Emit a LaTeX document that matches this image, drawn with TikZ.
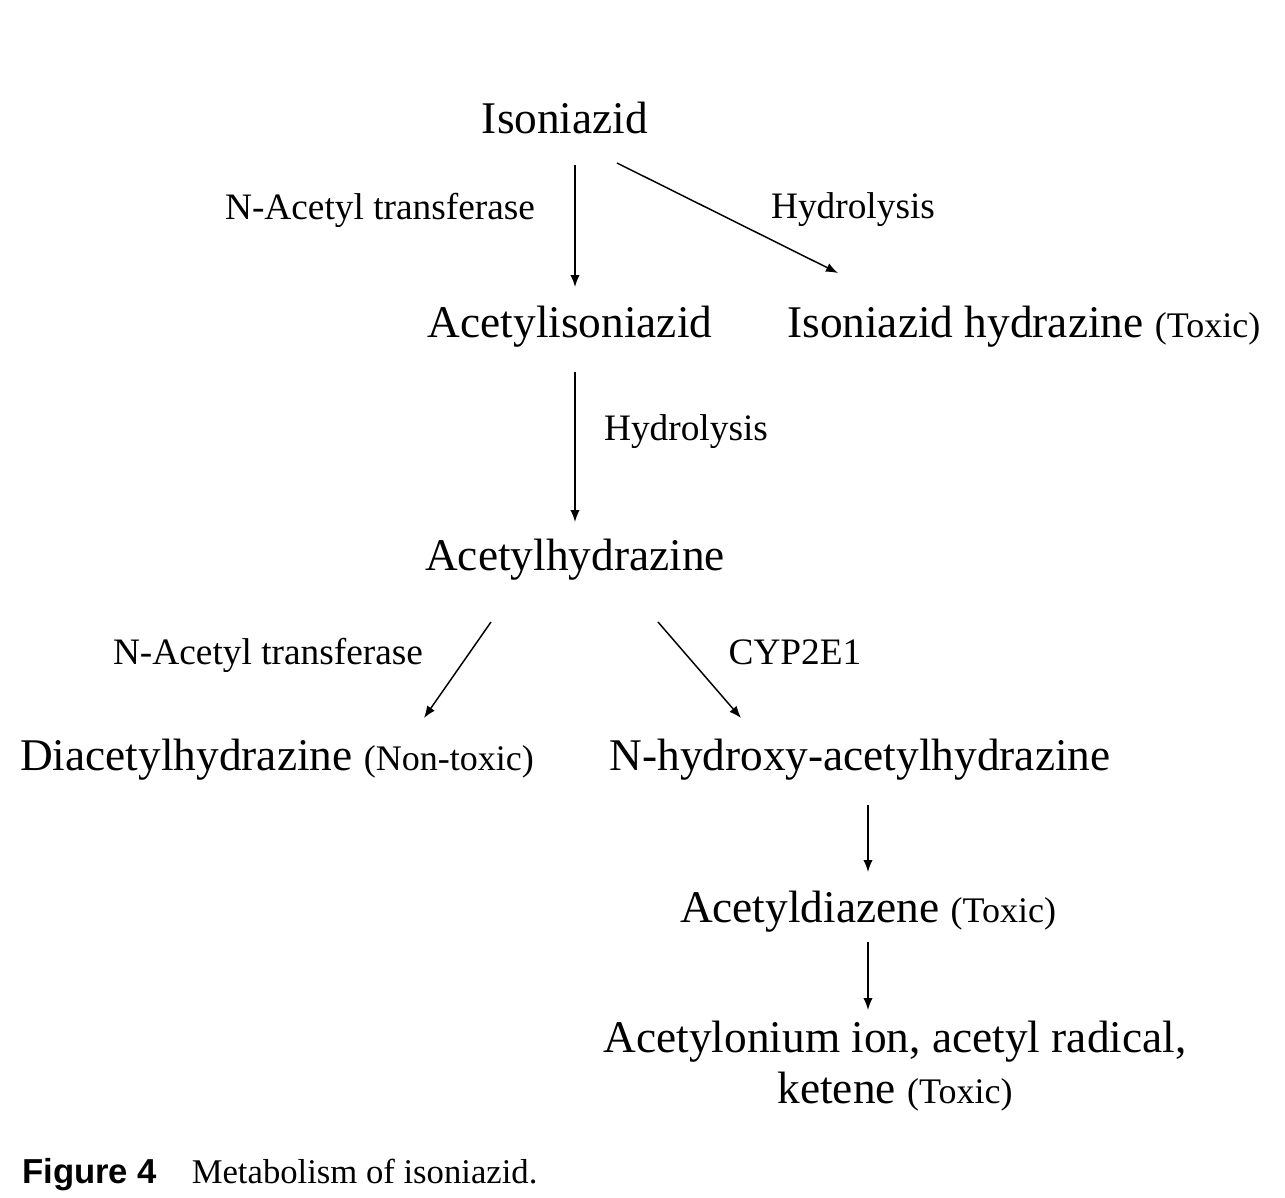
\documentclass[tikz,border=0pt]{standalone}
\usepackage{fontspec}
\setmainfont{Liberation Serif}
\newfontfamily\capsans{Liberation Sans}
\newcommand\toxsz{\fontsize{27}{30}\selectfont}
\usetikzlibrary{arrows.meta}
\begin{document}
\begin{tikzpicture}[x=0.75pt,y=-0.75pt,
  main/.style={font=\fontsize{34}{38}\selectfont,inner sep=0pt},
  lab/.style={font=\fontsize{28}{32}\selectfont,inner sep=0pt},
  arr/.style={-{Latex[length=9pt,width=7pt]},line width=1.1pt}]
\useasboundingbox (0,0) rectangle (1285,1197);
\node[main] (iso) at (565,118) {Isoniazid};
\node[lab] (l1) at (380,210) {N-Acetyl transferase};
\node[lab] (l2) at (853,210) {Hydrolysis};
\node[main] (acis) at (570,327) {Acetylisoniazid};
\node[main,anchor=west] (ish) at (787,327) {Isoniazid hydrazine {\toxsz (Toxic)}};
\node[lab] (l3) at (686,432) {Hydrolysis};
\node[main] (ach) at (575,560) {Acetylhydrazine};
\node[lab] (l4) at (268,655) {N-Acetyl transferase};
\node[lab] (l5) at (795,652) {CYP2E1};
\node[main,anchor=west] (dia) at (20,760) {Diacetylhydrazine {\toxsz (Non-toxic)}};
\node[main] (nh) at (860,760) {N-hydroxy-acetylhydrazine};
\node[main] (adz) at (868,912) {Acetyldiazene {\toxsz (Toxic)}};
\node[main,align=center] (aci) at (895,1066) {Acetylonium ion, acetyl radical,\\ketene {\toxsz (Toxic)}};
\node[font=\fontsize{26}{30}\selectfont,anchor=west,inner sep=0pt] (cap) at (22,1175) {{\capsans\bfseries Figure 4}\quad Metabolism of isoniazid.};
\coordinate (a1s) at (575,165); \coordinate (a1e) at (575,287);
\coordinate (a2s) at (617,163); \coordinate (a2e) at (838,273);
\coordinate (a3s) at (575,372); \coordinate (a3e) at (575,522);
\coordinate (a4s) at (491,622); \coordinate (a4e) at (424,718);
\coordinate (a5s) at (658,622); \coordinate (a5e) at (741,718);
\coordinate (a6s) at (868,805); \coordinate (a6e) at (868,872);
\coordinate (a7s) at (868,942); \coordinate (a7e) at (868,1010);
\draw[arr] (a1s) -- (a1e);
\draw[arr] (a2s) -- (a2e);
\draw[arr] (a3s) -- (a3e);
\draw[arr] (a4s) -- (a4e);
\draw[arr] (a5s) -- (a5e);
\draw[arr] (a6s) -- (a6e);
\draw[arr] (a7s) -- (a7e);
\end{tikzpicture}
\end{document}
